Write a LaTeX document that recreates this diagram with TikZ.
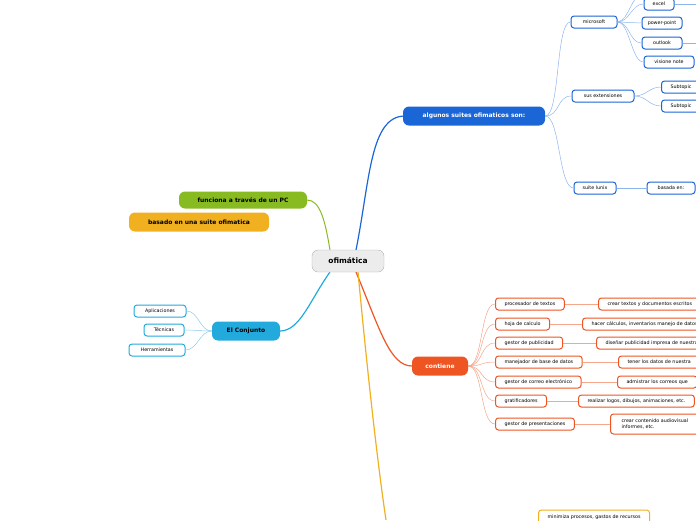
\documentclass[tikz,border=0pt]{standalone}
\usepackage{fontspec}
\setmainfont{DejaVu Sans}
\usetikzlibrary{calc}
\begin{document}
\begin{tikzpicture}[x=1pt,y=-1pt,
 leaf/.style={draw=#1,line width=1pt,fill=white,rounded corners=3pt,font=\fontsize{4.8}{5.8}\selectfont,inner sep=0pt,minimum height=12pt,text height=4pt},
 main/.style={fill=#1,rounded corners=6pt,font=\fontsize{6}{7}\selectfont\bfseries,inner sep=0pt,minimum height=19pt},
 lk/.style={draw=#1,line width=0.5pt}]
\useasboundingbox (0,0) rectangle (696,520);
\clip (0,0) rectangle (696,520);
\definecolor{lb}{HTML}{1a66d6}
\definecolor{lbl}{HTML}{8fb5ee}
\definecolor{og}{HTML}{ee5522}
\definecolor{ogl}{HTML}{f5a58a}
\definecolor{cy}{HTML}{22aadd}
\definecolor{cyl}{HTML}{88ccee}
\definecolor{gr}{HTML}{88bb22}
\definecolor{ye}{HTML}{f0b020}
% main branches
\draw[lb,line width=1.2pt] (356,250) .. controls (370,180) and (370,116) .. (405,116);
\draw[og,line width=1.2pt] (356,272) .. controls (380,330) and (390,366) .. (412,366);
\draw[cy,line width=1.2pt] (330,272) .. controls (310,300) and (300,331) .. (280,331);
\draw[gr,line width=1pt] (330,250) .. controls (325,220) and (320,200) .. (307,200);
\draw[ye,line width=1.2pt] (358,272) .. controls (370,400) and (380,480) .. (386,520);
\node[main=gray!15,draw=gray!60,minimum width=72pt,minimum height=22pt,font=\fontsize{7.5}{9}\selectfont\bfseries] (c) at (348,261) {ofimática};
\node[main=lb,text=white,minimum width=142pt] (s) at (474,116) {algunos suites ofimaticos son:};
\node[main=gr,minimum width=128pt,minimum height=17pt] (f) at (243,200) {funciona a través de un PC};
\node[main=ye,minimum width=140pt] (b) at (199,222) {basado en una suite ofimatica};
\node[main=cy,minimum width=68pt] (e) at (246,331) {El Conjunto};
\node[main=og,text=white,minimum width=56pt] (k) at (440,366) {contiene};
% blue sub
\node[leaf=lb,minimum width=46pt] (ms) at (594,22) {microsoft};
\node[leaf=lb,minimum width=62pt] (se) at (603,96) {sus extensiones};
\node[leaf=lb,minimum width=42pt] (sl) at (595,188) {suite lunix};
\foreach \n in {ms,se,sl} \draw[lk=lbl] (s.east) .. controls ($(s.east)+(15,0)$) and ($(\n.west)+(-15,0)$) .. (\n.west);
\node[leaf=lb,minimum width=30pt] (ex) at (659,4) {excel};
\node[leaf=lb,minimum width=40pt] (pp) at (662,23) {power-point};
\node[leaf=lb,minimum width=40pt] (ou) at (662,43) {outlook};
\node[leaf=lb,minimum width=50pt] (vn) at (669,62) {visione note};
\foreach \n in {ex,pp,ou,vn} \draw[lk=lbl] (ms.east) .. controls ($(ms.east)+(12,0)$) and ($(\n.west)+(-12,0)$) .. (\n.west);
\draw[lk=lbl] (ms.east) .. controls (630,20) and (630,-5) .. (645,-8);
\draw[lk=lbl] (ex.east) -- (700,4);
\draw[lk=lbl] (ou.east) -- (700,43);
\node[leaf=lb,anchor=west,inner xsep=9pt] (st1) at (661,87) {Subtopic\hspace{10pt}};
\node[leaf=lb,anchor=west,inner xsep=9pt] (st2) at (661,106) {Subtopic\hspace{10pt}};
\foreach \n in {st1,st2} \draw[lk=lbl] (se.east) .. controls ($(se.east)+(12,0)$) and ($(\n.west)+(-12,0)$) .. (\n.west);
\node[leaf=lb,minimum width=48pt] (bd) at (671,188) {basada en:};
\draw[lk=lbl] (sl) -- (bd);
% cyan sub
\node[leaf=cy,minimum width=52pt] (a1) at (160,311) {Aplicaciones};
\node[leaf=cy,minimum width=40pt] (a2) at (164,330) {Técnicas};
\node[leaf=cy,minimum width=56pt] (a3) at (157,350) {Herramientas};
\foreach \n in {a1,a2,a3} \draw[lk=cyl] (e.west) .. controls ($(e.west)+(-12,0)$) and ($(\n.east)+(12,0)$) .. (\n.east);
% orange
\foreach \n/\t/\y/\rx/\rt in {
 p1/procesador de textos/304/598/crear textos y documentos escritos,
 p2/hoja de calculo/324/582/hacer cálculos{,} inventarios manejo de datos,
 p3/gestor de publicidad/343/596/diseñar publicidad impresa de nuestra,
 p4/manejador de base de datos/362/618/tener los datos de nuestra,
 p5/gestor de correo electrónico/382/617/admistrar los correos que,
 p6/gratificadores/401/578/realizar logos{,} dibujos{,} animaciones{,} etc.} {
 \node[leaf=og,anchor=west,inner xsep=9pt] (\n) at (495,\y) {\t};
 \draw[lk=ogl] (k.east) .. controls ($(k.east)+(15,0)$) and ($(\n.west)+(-15,0)$) .. (\n.west);
 \node[leaf=og,anchor=west,inner xsep=9pt] (\n r) at (\rx,\y) {\rt\hspace{30pt}};
 \draw[lk=ogl] (\n.east) -- (\n r.west);
}
\node[leaf=og,anchor=west,inner xsep=9pt] (p7) at (495,424) {gestor de presentaciones};
\draw[lk=ogl] (k.east) .. controls ($(k.east)+(15,0)$) and ($(p7.west)+(-15,0)$) .. (p7.west);
\node[draw=og,line width=1pt,fill=white,rounded corners=3pt,font=\fontsize{4.8}{5.8}\selectfont,anchor=west,minimum height=20pt,text width=110pt,inner xsep=11pt,inner ysep=2pt,align=left] (p7r) at (610,424) {crear contenido audiovisual\\informes, etc.};
\draw[lk=ogl] (p7) -- (p7r);
% yellow
\node[leaf=ye,anchor=west,inner xsep=9pt,minimum height=14pt] (y1) at (538,517) {minimiza procesos, gastos de recursos};
\end{tikzpicture}
\end{document}
